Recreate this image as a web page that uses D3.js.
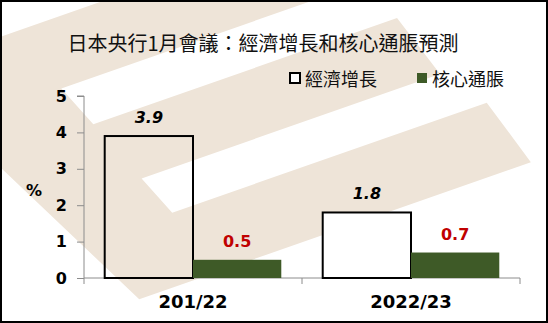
<!DOCTYPE html>
<html lang="zh-Hant">
<head>
<meta charset="UTF-8">
<title>日本央行1月會議</title>
<style>
  body { margin: 0; background: #fff; }
  svg { display: block; }
  .num { font-family: "DejaVu Sans", Verdana, sans-serif; font-weight: bold; }
  .cjk { font-family: "Noto Sans CJK TC", "Noto Sans CJK SC", sans-serif; }
</style>
</head>
<body>
<svg id="chart" width="548" height="323"></svg>
<script src="https://d3js.org/d3.v7.min.js"></script>
<script>
// Data

const categories = ["201/22", "2022/23"];
const seriesNames = ["經濟增長", "核心通脹"];
const growth = [3.9, 1.8];
const inflation = [0.5, 0.7];
const yTicks = [0, 1, 2, 3, 4, 5];

// Layout

const width = 548;
const height = 323;
const plot = { left: 84, right: 520, top: 96, bottom: 278 };

const BEIGE = "#eee4d8";
const GREEN = "#3e5a27";
const RED = "#c00000";
const AXIS = "#8c8c8c";

const svg = d3.select("#chart");

// Watermark (tilted "E" shape behind the chart)

const slope = 0.35;
const arm = (c, x) => [x, c - slope * x];
const cross = (c, x0, y0, m) => {
  const x = (c - y0 + m * x0) / (m + slope);
  return [x, c - slope * x];
};
const spineL = [140, 300, 0.95];
const spineR = [143, 180, 1.12];
const midCut = [397, 18, 1.3];
const botCut = [527, 157, 1.35];

const logo = [
  cross(37, ...spineL),
  arm(37, 400),
  arm(110, 420),
  cross(110, ...spineR),
  cross(157, ...spineR),
  cross(157, ...midCut),
  cross(228, ...midCut),
  cross(228, ...spineR),
  cross(273, ...spineR),
  cross(273, ...botCut),
  cross(348, ...botCut),
  cross(348, ...spineL)
];

svg.append("path")
  .attr("d", d3.line()(logo) + "Z")
  .attr("fill", BEIGE);

// Scales

const x0 = d3.scaleBand()
  .domain(categories)
  .range([plot.left, plot.right])
  .paddingInner(0.19)
  .paddingOuter(0.095);

const x1 = d3.scaleBand()
  .domain(seriesNames)
  .range([0, x0.bandwidth()]);

const y = d3.scaleLinear()
  .domain([0, 5])
  .range([plot.bottom, plot.top]);

// Axes

const yAxis = svg.append("g")
  .attr("transform", `translate(${plot.left},0)`)
  .call(d3.axisLeft(y).tickValues(yTicks).tickSize(7).tickPadding(10).tickFormat(d3.format("d")));
yAxis.select(".domain").attr("stroke", AXIS).attr("d", `M-7,${plot.top}H0V${plot.bottom}`);
yAxis.selectAll(".tick line").attr("stroke", AXIS);
yAxis.selectAll(".tick text")
  .attr("class", "num")
  .attr("font-size", 16)
  .attr("fill", "#000");
yAxis.attr("font-family", null);

const xAxis = svg.append("g");
xAxis.append("line")
  .attr("x1", plot.left).attr("x2", plot.right)
  .attr("y1", y(0)).attr("y2", y(0))
  .attr("stroke", AXIS);
const bounds = [plot.left, ...categories.map(c => x0(c) + x0.bandwidth() + x0.step() * x0.paddingOuter())];
xAxis.selectAll("line.tick")
  .data(bounds)
  .join("line")
    .attr("class", "tick")
    .attr("x1", d => d).attr("x2", d => d)
    .attr("y1", y(0)).attr("y2", y(0) + 6)
    .attr("stroke", AXIS);
xAxis.selectAll("text")
  .data(categories)
  .join("text")
    .attr("class", "num")
    .attr("x", d => x0(d) + x0.bandwidth() / 2)
    .attr("y", 308)
    .attr("text-anchor", "middle")
    .attr("font-size", 18)
    .text(d => d);

// % label

svg.append("text")
  .attr("class", "num")
  .attr("x", 34)
  .attr("y", 196)
  .attr("text-anchor", "middle")
  .attr("font-size", 16)
  .text("%");

// Bars

const growthFill = ["none", "#ffffff"];

const rows = categories.map((c, i) => ({ cat: c, i, growth: growth[i], inflation: inflation[i] }));

svg.append("g")
  .selectAll("rect")
  .data(rows)
  .join("rect")
    .attr("x", d => x0(d.cat) + x1(seriesNames[0]))
    .attr("y", d => y(d.growth))
    .attr("width", x1.bandwidth())
    .attr("height", d => y(0) - y(d.growth))
    .attr("fill", d => growthFill[d.i])
    .attr("stroke", "#000")
    .attr("stroke-width", 2);

svg.append("g")
  .selectAll("rect")
  .data(rows)
  .join("rect")
    .attr("x", d => x0(d.cat) + x1(seriesNames[1]))
    .attr("y", d => y(d.inflation))
    .attr("width", x1.bandwidth())
    .attr("height", d => y(0) - y(d.inflation))
    .attr("fill", GREEN);

// Value labels

svg.append("g")
  .selectAll("text")
  .data(rows)
  .join("text")
    .attr("class", "num")
    .attr("x", d => x0(d.cat) + x1(seriesNames[0]) + x1.bandwidth() / 2)
    .attr("y", d => y(d.growth) - 13)
    .attr("text-anchor", "middle")
    .attr("font-size", 16)
    .attr("font-style", "italic")
    .text(d => d3.format(".1f")(d.growth));

svg.append("g")
  .selectAll("text")
  .data(rows)
  .join("text")
    .attr("class", "num")
    .attr("x", d => x0(d.cat) + x1(seriesNames[1]) + x1.bandwidth() / 2)
    .attr("y", d => y(d.inflation) - 13)
    .attr("text-anchor", "middle")
    .attr("font-size", 16)
    .attr("fill", RED)
    .text(d => d3.format(".1f")(d.inflation));

// Title

svg.append("text")
  .attr("class", "cjk")
  .attr("x", 263)
  .attr("y", 42)
  .attr("dominant-baseline", "central")
  .attr("text-anchor", "middle")
  .attr("font-size", 20)
  .attr("fill", "#111")
  .text("日本央行1月會議：經濟增長和核心通脹預測");

// Legend

const legend = svg.append("g");
legend.append("rect")
  .attr("x", 290).attr("y", 73)
  .attr("width", 10).attr("height", 10)
  .attr("fill", "#fff")
  .attr("stroke", "#000")
  .attr("stroke-width", 2);
legend.append("rect")
  .attr("x", 417).attr("y", 73)
  .attr("width", 10).attr("height", 10)
  .attr("fill", GREEN);
legend.selectAll("text")
  .data([[305, seriesNames[0]], [432, seriesNames[1]]])
  .join("text")
    .attr("class", "cjk")
    .attr("x", d => d[0])
    .attr("y", 78)
    .attr("dominant-baseline", "central")
    .attr("font-size", 18)
    .attr("fill", "#111")
    .text(d => d[1]);

// Frame

svg.append("rect")
  .attr("x", 1).attr("y", 1)
  .attr("width", width - 2).attr("height", height - 2)
  .attr("fill", "none")
  .attr("stroke", "#000")
  .attr("stroke-width", 2);
</script>
</body>
</html>
